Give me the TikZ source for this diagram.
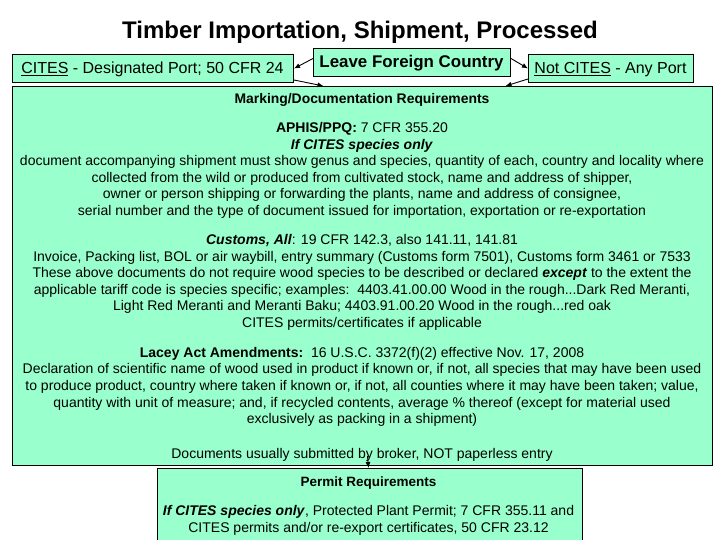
\documentclass[tikz,border=0pt]{standalone}
\usepackage{fontspec}
\setmainfont{Liberation Sans}
\usetikzlibrary{arrows.meta}
\definecolor{mint}{RGB}{153,255,204}
\tikzset{
  box/.style={draw=black, line width=1pt, fill=mint, inner sep=0pt, anchor=north west},
  ln/.style={anchor=base, inner sep=0pt, font=\fontsize{14}{16}\selectfont},
  pl/.style={anchor=base, inner sep=0pt, font=\fontsize{14}{16}\selectfont},
  top/.style={anchor=base, inner sep=0pt, font=\fontsize{16}{18}\selectfont},
  arr/.style={-{Latex[length=6pt,width=5pt]}, line width=0.9pt},
}
\begin{document}
\begin{tikzpicture}[x=1pt,y=-1pt]
\clip (0,0) rectangle (720,540);
\useasboundingbox (0,0) rectangle (720,540);
% title
\node[anchor=base, inner sep=0pt, font=\fontsize{24}{26}\selectfont\bfseries] (title) at (360,39) {Timber Importation, Shipment, Processed};
% top boxes
\node[box, minimum width=281pt, minimum height=28pt] (cites) at (12,54) {};
\node[top] (citest) at (152.5,74) {\underline{CITES} - Designated Port; 50 CFR 24};
\node[box, minimum width=197pt, minimum height=28pt] (leave) at (313,48) {};
\node[top, font=\fontsize{16.9}{18}\selectfont\bfseries] (leavet) at (411.5,68) {Leave Foreign Country};
\node[box, minimum width=165pt, minimum height=28pt] (notc) at (528,54) {};
\node[top] (notct) at (610.5,74) {\underline{Not CITES} - Any Port};
% main box
\node[box, minimum width=700pt, minimum height=379pt] (main) at (12,86) {};
% permit box
\node[box, minimum width=425pt, minimum height=90pt] (permit) at (157,468) {};
% main text
\node[ln, font=\fontsize{13.9}{15}\selectfont\bfseries] (m1) at (362,103.5) {Marking/Documentation Requirements};
\node[ln] (m2) at (362,132.5) {\textbf{APHIS/PPQ:} 7 CFR 355.20};
\node[ln] (m3) at (362,149.5) {\textbf{\textit{If CITES species only}}};
\node[ln] (m4) at (362,165.5) {document accompanying shipment must show genus and species, quantity of each, country and locality where};
\node[ln] (m5) at (362,182.5) {collected from the wild or produced from cultivated stock, name and address of shipper,};
\node[ln] (m6) at (362,198.5) {owner or person shipping or forwarding the plants, name and address of consignee,};
\node[ln] (m7) at (362,215.5) {serial number and the type of document issued for importation, exportation or re-exportation};
\node[ln] (m8) at (362,244.5) {\textbf{\textit{Customs, All}}: 19 CFR 142.3, also 141.11, 141.81};
\node[ln] (m9) at (362,261.5) {Invoice, Packing list, BOL or air waybill, entry summary (Customs form 7501), Customs form 3461 or 7533};
\node[ln] (m10) at (362,277.5) {These above documents do not require wood species to be described or declared \textbf{\textit{except}} to the extent the};
\node[ln] (m11) at (362,294.5) {applicable tariff code is species specific; examples:\ \ 4403.41.00.00 Wood in the rough...Dark Red Meranti,};
\node[ln] (m12) at (362,310.5) {Light Red Meranti and Meranti Baku; 4403.91.00.20 Wood in the rough...red oak};
\node[ln] (m13) at (362,327.5) {CITES permits/certificates if applicable};
\node[ln] (m14) at (362,357.5) {\textbf{Lacey Act Amendments:}\ \ 16 U.S.C. 3372(f)(2) effective Nov. 17, 2008};
\node[ln] (m15) at (362,373.5) {Declaration of scientific name of wood used in product if known or, if not, all species that may have been used};
\node[ln] (m16) at (362,390.5) {to produce product, country where taken if known or, if not, all counties where it may have been taken; value,};
\node[ln] (m17) at (362,407.5) {quantity with unit of measure; and, if recycled contents, average \% thereof (except for material used};
\node[ln] (m18) at (362,423.5) {exclusively as packing in a shipment)};
\node[ln] (m19) at (362,458.5) {Documents usually submitted by broker, NOT paperless entry};
% permit text
\node[pl, font=\fontsize{13.5}{15}\selectfont\bfseries] (p1) at (368.5,486.5) {Permit Requirements};
\node[pl] (p2) at (368.5,515.5) {\textbf{\textit{If CITES species only}}, Protected Plant Permit; 7 CFR 355.11 and};
\node[pl] (p3) at (368.5,532.5) {CITES permits and/or re-export certificates, 50 CFR 23.12};
% connectors
\draw[arr] ([yshift=4pt]leave.west) -- (cites.east);
\draw[arr] ([yshift=4pt]leave.east) -- (notc.west);
\draw[arr] ([yshift=3pt]cites.south east) -- ([xshift=-39pt]main.north);
\draw[arr] ([yshift=4pt]notc.south west) -- ([xshift=143pt]main.north);
\draw[arr] ([xshift=5pt,yshift=10pt]main.south) -- ([xshift=-1.5pt]permit.north);
\end{tikzpicture}
\end{document}
